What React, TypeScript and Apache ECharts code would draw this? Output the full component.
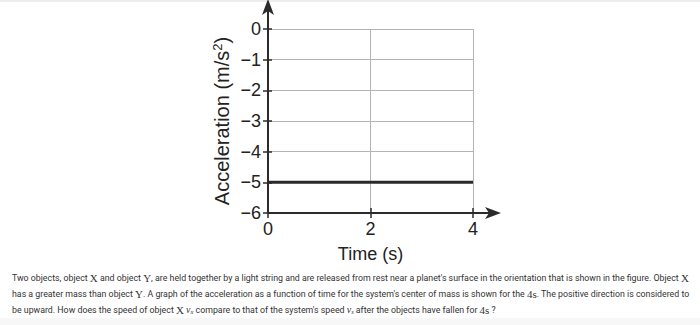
import React, { useEffect, useRef } from "react";
import * as echarts from "echarts";

const timeRange = [0, 4];
const accelRange = [-6, 0];
const seriesTime = [0, 4];
const seriesAccel = [-5, -5];
const xTickStep = 2;
const yTickStep = 1;
const captionLines = [
  [
    { t: "Two objects, object ", s: "n" },
    { t: "X", s: "serif" },
    { t: " and object ", s: "n" },
    { t: "Y", s: "serif" },
    { t: ", are held together by a light string and are released from rest near a planet's surface in the orientation that is shown in the figure. Object ", s: "n" },
    { t: "X", s: "serif" },
  ],
  [
    { t: "has a greater mass than object ", s: "n" },
    { t: "Y", s: "serif" },
    { t: ". A graph of the acceleration as a function of time for the system's center of mass is shown for the ", s: "n" },
    { t: "4s", s: "serif" },
    { t: ". The positive direction is considered to", s: "n" },
  ],
  [
    { t: "be upward. How does the speed of object ", s: "n" },
    { t: "X", s: "serif" },
    { t: " ", s: "n" },
    { t: "v", s: "it" },
    { t: "x", s: "sub" },
    { t: " compare to that of the system's speed ", s: "n" },
    { t: "v", s: "it" },
    { t: "s", s: "sub" },
    { t: " after the objects have fallen for ", s: "n" },
    { t: "4s", s: "serif" },
    { t: " ?", s: "n" },
  ],
];

const fmt = (v: number) => (v < 0 ? "\u2212" + Math.abs(v) : String(v));

export default function App() {
  const ref = useRef<HTMLDivElement>(null);
  useEffect(() => {
    document.body.style.margin = "0";
    const chart = echarts.init(ref.current!, null, { renderer: "svg" });
    const gridLeft = 268, gridTop = 29, gridW = 205, gridH = 184;
    const arrowTop = 5, arrowRight = 495;
    const extH = gridTop + gridH - arrowTop;
    const extW = arrowRight - gridLeft;
    const yExtMax = accelRange[0] + (accelRange[1] - accelRange[0]) * extH / gridH;
    const xExtMax = timeRange[0] + (timeRange[1] - timeRange[0]) * extW / gridW;
    const font = "Liberation Sans, Arial, sans-serif";
    const axisColor = "#2b2b2b";
    const rich: any = {
      n: { fontFamily: "Roboto, sans-serif", fontSize: 8.8, fill: "#333" },
      serif: { fontFamily: "Liberation Serif, serif", fontSize: 11, fill: "#333" },
      it: { fontFamily: "Liberation Serif, serif", fontStyle: "italic", fontSize: 10, fill: "#333" },
      sub: { fontFamily: "Liberation Serif, serif", fontStyle: "italic", fontSize: 6.5, fill: "#333", verticalAlign: "bottom" },
    };
    const captionTexts = captionLines.map((line, i) => ({
      type: "text",
      left: 12,
      top: 272 + i * 16,
      style: {
        text: line.map((p) => `{${p.s}|${p.t}}`).join(""),
        rich,
      },
    }));
    chart.setOption({
      animation: false,
      grid: [
        { left: gridLeft, top: gridTop, width: gridW, height: gridH },
        { left: gridLeft, top: arrowTop, width: extW, height: extH },
      ],
      xAxis: [
        {
          gridIndex: 0, type: "value", min: timeRange[0], max: timeRange[1], interval: xTickStep,
          name: "Time (s)", nameLocation: "middle", nameGap: 32,
          nameTextStyle: { fontFamily: font, fontSize: 18, color: "#222" },
          axisLine: { show: false, onZero: false },
          axisTick: { show: true, length: 5, lineStyle: { color: axisColor, width: 1.5 } },
          axisLabel: { formatter: fmt, fontFamily: font, fontSize: 18, color: "#222", margin: 7 },
          splitLine: { show: true, lineStyle: { color: "#b4b4b4", width: 1 } },
        },
        {
          gridIndex: 0, type: "value", min: timeRange[0], max: timeRange[1], interval: xTickStep,
          position: "bottom",
          axisLine: { show: false, onZero: false },
          axisTick: { show: true, inside: true, length: 5, lineStyle: { color: axisColor, width: 1.5 } },
          axisLabel: { show: false },
          splitLine: { show: false },
        },
        {
          gridIndex: 1, type: "value", min: timeRange[0], max: xExtMax,
          axisLine: { show: true, onZero: false, symbol: ["none", "arrow"], symbolSize: [9, 16], symbolOffset: [0, 6], lineStyle: { color: axisColor, width: 2 } },
          axisTick: { show: false }, axisLabel: { show: false }, splitLine: { show: false },
        },
      ],
      yAxis: [
        {
          gridIndex: 0, type: "value", min: accelRange[0], max: accelRange[1], interval: yTickStep,
          name: "Acceleration (m/s{sup|2})", nameLocation: "middle", nameGap: 36, nameRotate: 90,
          nameTextStyle: {
            fontFamily: font, fontSize: 20, color: "#222",
            rich: { sup: { fontFamily: font, fontSize: 13, color: "#222", verticalAlign: "top", padding: [0, 0, 8, 0] } },
          },
          axisLine: { show: false, onZero: false },
          axisTick: { show: true, length: 5, lineStyle: { color: axisColor, width: 1.5 } },
          axisLabel: { formatter: fmt, fontFamily: font, fontSize: 18, color: "#222", margin: 7 },
          splitLine: { show: true, lineStyle: { color: "#b4b4b4", width: 1 } },
        },
        {
          gridIndex: 0, type: "value", min: accelRange[0], max: accelRange[1], interval: yTickStep,
          position: "left",
          axisLine: { show: false, onZero: false },
          axisTick: { show: true, inside: true, length: 4, lineStyle: { color: axisColor, width: 1.5 } },
          axisLabel: { show: false },
          splitLine: { show: false },
        },
        {
          gridIndex: 1, type: "value", min: accelRange[0], max: yExtMax,
          axisLine: { show: true, onZero: false, symbol: ["none", "arrow"], symbolSize: [9, 16], symbolOffset: [0, 6], lineStyle: { color: axisColor, width: 2 } },
          axisTick: { show: false }, axisLabel: { show: false }, splitLine: { show: false },
        },
      ],
      series: [
        {
          type: "line", xAxisIndex: 0, yAxisIndex: 0,
          data: seriesTime.map((t, i) => [t, seriesAccel[i]]),
          showSymbol: false, symbol: "none",
          lineStyle: { color: "#2a2a2a", width: 3 },
        },
      ],
      graphic: [
        { type: "rect", shape: { x: 0, y: 0, width: 700, height: 2 }, style: { fill: "#ececec" } },
        { type: "rect", shape: { x: 0, y: 318, width: 700, height: 7 }, style: { fill: "#f7f7f7" } },
        ...captionTexts,
      ],
    });
    return () => chart.dispose();
  }, []);
  return <div ref={ref} style={{ width: 700, height: 325, position: "absolute", left: 0, top: 0, background: "#fff" }} />;
}
